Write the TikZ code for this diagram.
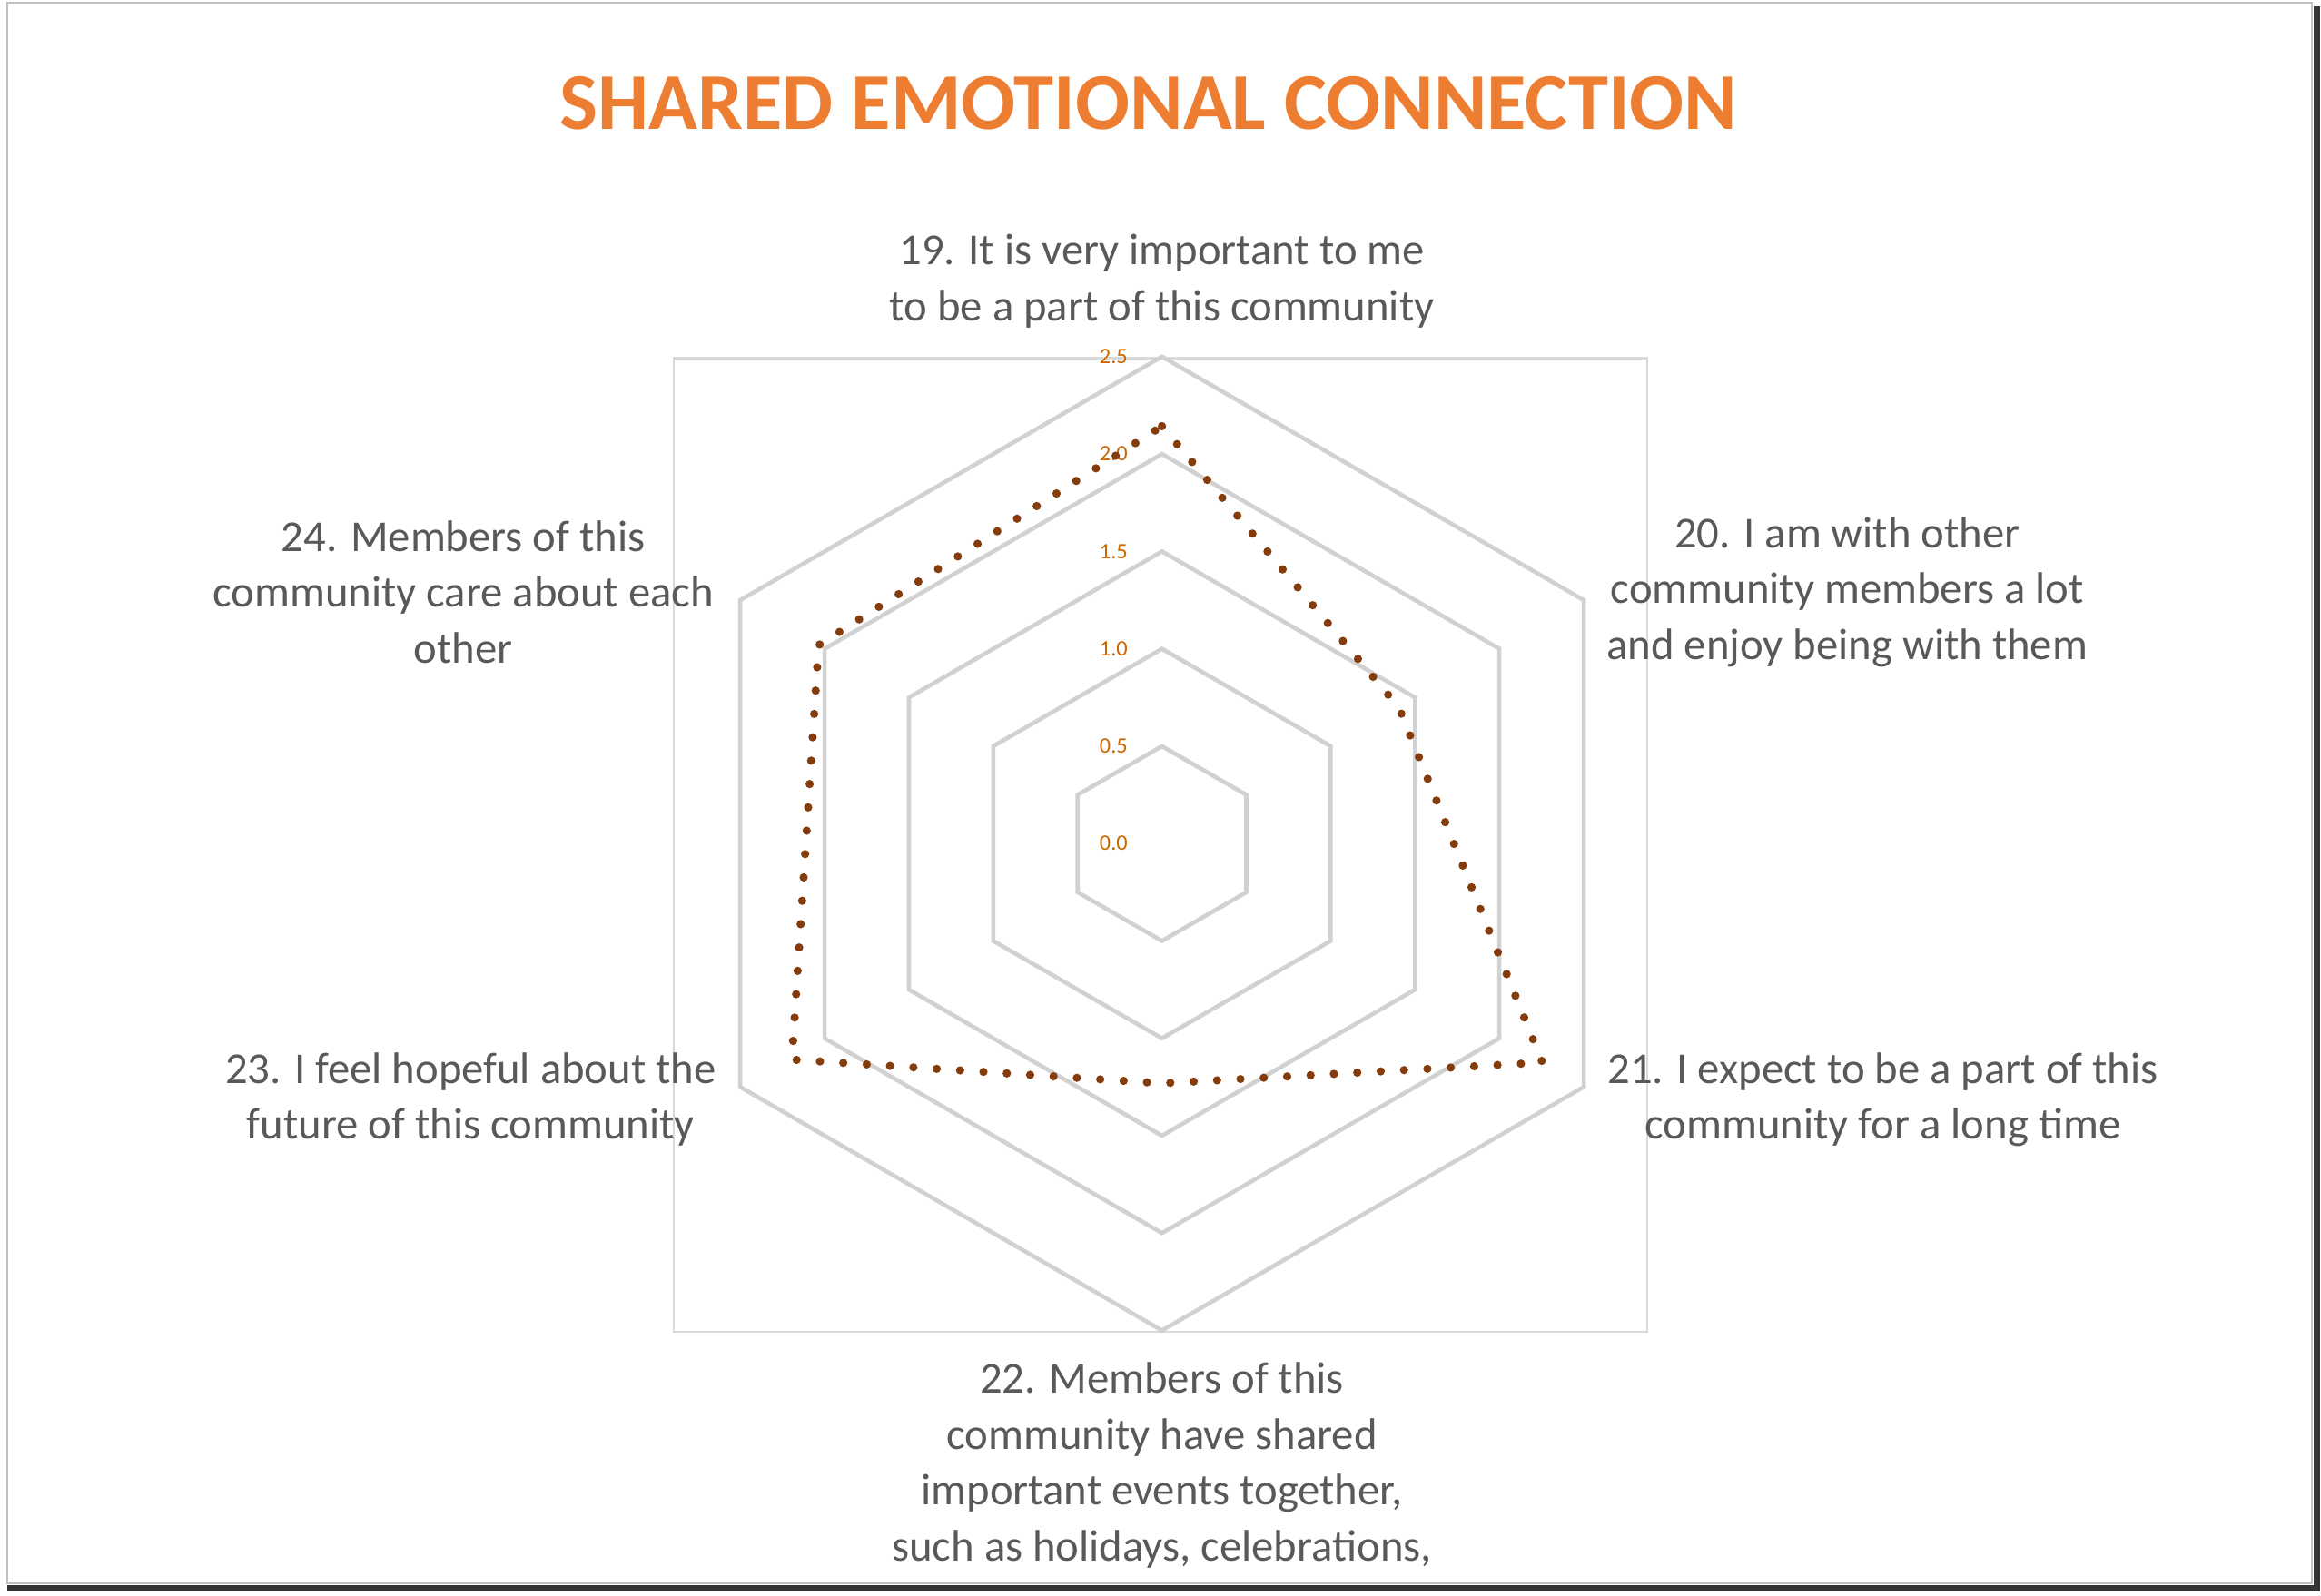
\documentclass[tikz,border=0pt]{standalone}
\usepackage{fontspec}
\setmainfont{Carlito}
\begin{document}
\begin{tikzpicture}[x=0.02cm,y=-0.02cm,
  lbl/.style={text=black!65,font=\fontsize{17}{21.5}\selectfont,align=center},
  tick/.style={text=orange!80!black,font=\fontsize{8.5}{10}\selectfont,anchor=east},
  ring/.style={draw=black!18,line width=1.6pt}]
\useasboundingbox (0,0) rectangle (1568,1078);
\fill[white] (0,0) rectangle (1568,1078);
\draw[black!25,line width=0.8pt] (5,2) rectangle (1562,1070);
\draw[black!80,line width=2.5pt] (5,1073) -- (1565,1073) -- (1565,4);
\node[font=\bfseries\fontsize{31}{36}\selectfont,text={rgb,255:red,237;green,125;blue,49}] (title) at (776,70) {SHARED EMOTIONAL CONNECTION};
\draw[black!15,line width=0.8pt] (455,242) rectangle (1113,900);
\foreach \r in {65.8,131.6,197.4,263.2,329}{
  \draw[ring] (785,570-\r) -- ({785+0.866*\r},{570-0.5*\r}) -- ({785+0.866*\r},{570+0.5*\r}) -- (785,570+\r) -- ({785-0.866*\r},{570+0.5*\r}) -- ({785-0.866*\r},{570-0.5*\r}) -- cycle;}
\foreach \v/\t in {0/0.0,1/0.5,2/1.0,3/1.5,4/2.0,5/2.5}{
  \node[tick] (t\v) at (768,{570-65.8*\v}) {\t};}
\coordinate (d1) at (785,288);
\coordinate (d2) at (945,478);
\coordinate (d3) at (1042,718);
\coordinate (d4) at (785,732);
\coordinate (d5) at (535,716);
\coordinate (d6) at (553,436);
\draw[draw={rgb,255:red,132;green,60;blue,12},line width=3.2pt,line cap=round,dash pattern=on 0pt off 9pt] (d1)--(d2)--(d3)--(d4)--(d5)--(d6)--cycle;
\node[lbl] (l19) at (785,190) {19. It is very important to me\\to be a part of this community};
\node[lbl] (l20) at (1248,400) {20. I am with other\\community members a lot\\and enjoy being with them};
\node[lbl] (l21) at (1272,743) {21. I expect to be a part of this\\community for a long time};
\node[lbl] (l22) at (785,990) {22. Members of this\\community have shared\\important events together,\\such as holidays, celebrations,};
\node[lbl] (l23) at (318,743) {23. I feel hopeful about the\\future of this community};
\node[lbl] (l24) at (313,400) {24. Members of this\\community care about each\\other};
\end{tikzpicture}
\end{document}
